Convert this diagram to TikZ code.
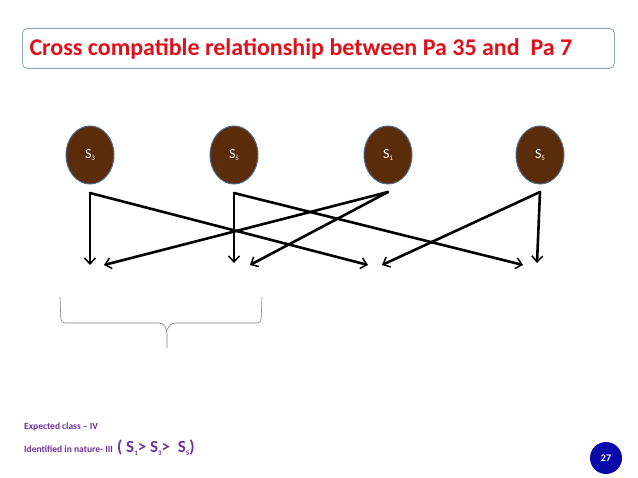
\documentclass[tikz,border=0pt]{standalone}
\usepackage{fontspec}
\setmainfont{Carlito}
\usetikzlibrary{arrows.meta,shapes.geometric}
\definecolor{brownfill}{HTML}{5A2C0A}
\definecolor{edgeblue}{HTML}{4A6A8E}
\definecolor{titlered}{HTML}{E0101A}
\definecolor{purp}{HTML}{7030A0}
\definecolor{pgblue}{HTML}{0A0AAA}
\newcommand{\sub}[1]{\raisebox{-0.35ex}{\scriptsize #1}}
\tikzset{
  seed/.style={ellipse, fill=brownfill, draw=edgeblue, line width=1pt, minimum width=48pt, minimum height=58pt, inner sep=0pt, text=white, font=\fontsize{14}{16}\selectfont},
  arr/.style={-{Straight Barb[length=6pt,width=11pt,line width=1.5pt]}, line width=2.6pt, line cap=round},
}
\begin{document}
\begin{tikzpicture}[x=1pt,y=-1pt]
\useasboundingbox (0,0) rectangle (638,478);
\node[draw=edgeblue!60, rounded corners=5pt, line width=0.8pt, minimum width=592pt, minimum height=40pt, anchor=north west, inner sep=0pt] (tbox) at (22,28) {};
\node[anchor=west, text=titlered, font=\fontsize{24}{28}\selectfont\bfseries] (title) at (26,49) {Cross compatible relationship between Pa 35 and\ \ Pa 7};
\node[seed] (a) at (90,155) {S\sub{3}};
\node[seed] (b) at (234,155) {S\sub{5}};
\node[seed] (c) at (388,155) {S\sub{1}};
\node[seed] (d) at (540,155) {S\sub{5}};
\coordinate (e1) at (90,265); \coordinate (e2) at (104,265);
\coordinate (e3) at (234,263); \coordinate (e4) at (250,265);
\coordinate (e5) at (368,265); \coordinate (e6) at (382,265);
\coordinate (e7) at (523,265); \coordinate (e8) at (537,263);
\coordinate (sa) at (90,193); \coordinate (sb) at (234,193);
\coordinate (sc) at (388,192); \coordinate (sd) at (540,192);
\draw[arr] (sa) -- (e1);
\draw[arr] (sa) -- (e5);
\draw[arr] (sb) -- (e3);
\draw[arr] (sb) -- (e7);
\draw[arr] (sc) -- (e2);
\draw[arr] (sc) -- (e4);
\draw[arr] (sd) -- (e6);
\draw[arr] (sd) -- (e8);
\coordinate (bl) at (60,297); \coordinate (br) at (262,297); \coordinate (bt) at (167,348);
\draw[gray, line width=0.6pt, rounded corners=4pt] (bl) -- (61,323) -- (163,323) -- (167,330) -- (bt);
\draw[gray, line width=0.6pt, rounded corners=4pt] (br) -- (261,323) -- (171,323) -- (167,330);
\node[anchor=west, text=purp, font=\fontsize{9.5}{11}\selectfont\bfseries, inner sep=0pt] (t1) at (24,427) {Expected class -- IV};
\node[anchor=west, text=purp, font=\fontsize{9.5}{11}\selectfont\bfseries, inner sep=0pt] (t2) at (24,449) {Identified in nature- III};
\node[anchor=base west, text=purp, font=\fontsize{17}{19}\selectfont\bfseries, inner sep=0pt] (t3) at (t2.base east) {\ ( S\sub{1}> S\sub{3}>\ \ S\sub{5})};
\node[circle, fill=pgblue, minimum size=32pt, inner sep=0pt, text=white, font=\fontsize{10}{11}\selectfont\bfseries] (pg) at (606,458) {27};
\end{tikzpicture}
\end{document}
